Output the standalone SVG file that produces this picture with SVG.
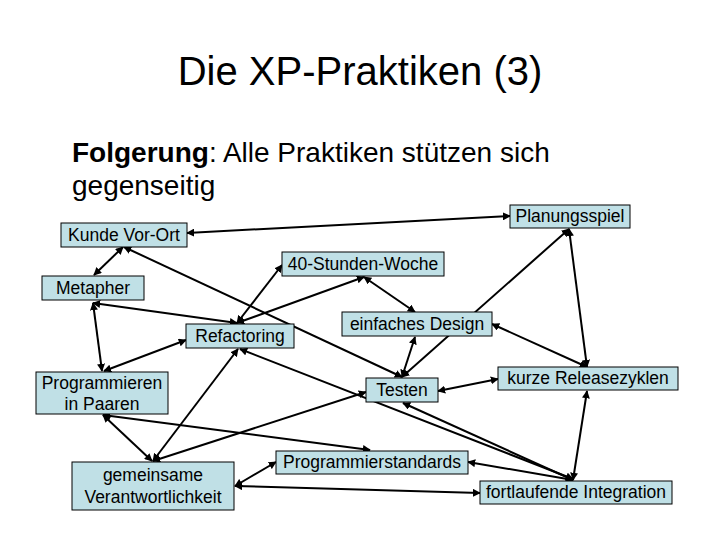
<svg xmlns="http://www.w3.org/2000/svg" width="720" height="540" viewBox="0 0 720 540">
<style>
.b{fill:#c0e0e6;stroke:#000;stroke-width:1}
.t{font-family:"Liberation Sans",Arial,sans-serif;font-size:17.5px;fill:#000;text-anchor:middle}
.c line{stroke:#000;stroke-width:2;marker-start:url(#a);marker-end:url(#a)}
</style>
<defs><marker id="a" viewBox="0 0 10 10" refX="9" refY="5" markerWidth="4" markerHeight="4" orient="auto-start-reverse"><path d="M0,0L10,5L0,10z" fill="#000"/></marker></defs>
<rect width="720" height="540" fill="#fff"/>
<text x="360" y="85" font-family="Liberation Sans,Arial,sans-serif" font-size="40" text-anchor="middle">Die XP-Praktiken (3)</text>
<text x="72" y="162" font-family="Liberation Sans,Arial,sans-serif" font-size="28"><tspan font-weight="bold">Folgerung</tspan>: Alle Praktiken stützen sich</text>
<text x="72" y="195" font-family="Liberation Sans,Arial,sans-serif" font-size="28">gegenseitig</text>
<g class="c" id="connectors">
<line x1="510" y1="216" x2="187" y2="233"/>
<line x1="123" y1="247" x2="94" y2="275"/>
<line x1="124" y1="247" x2="402" y2="377"/>
<line x1="93" y1="303" x2="237" y2="323"/>
<line x1="237" y1="323" x2="282" y2="265"/>
<line x1="237" y1="323" x2="364" y2="277"/>
<line x1="93" y1="303" x2="102" y2="371"/>
<line x1="186" y1="340" x2="104" y2="371"/>
<line x1="238" y1="349" x2="153" y2="461"/>
<line x1="240" y1="349" x2="573" y2="479"/>
<line x1="153" y1="461" x2="366" y2="392"/>
<line x1="103" y1="415" x2="152" y2="461"/>
<line x1="103" y1="415" x2="370" y2="450"/>
<line x1="235" y1="486" x2="276" y2="462"/>
<line x1="480" y1="493" x2="235" y2="486"/>
<line x1="364" y1="277" x2="415" y2="312"/>
<line x1="415" y1="337" x2="402" y2="377"/>
<line x1="402" y1="377" x2="569" y2="229"/>
<line x1="569" y1="229" x2="587" y2="367"/>
<line x1="492" y1="324" x2="587" y2="367"/>
<line x1="438" y1="391" x2="498" y2="379"/>
<line x1="587" y1="391" x2="573" y2="480"/>
<line x1="403" y1="403" x2="573" y2="480"/>
<line x1="468" y1="462" x2="573" y2="480"/>
</g>
<g id="kunde"><rect class="b" x="61" y="223" width="126" height="24"/><text class="t" x="124" y="241">Kunde Vor-Ort</text></g>
<g id="metapher"><rect class="b" x="42" y="276" width="102" height="24"/><text class="t" x="93" y="294">Metapher</text></g>
<g id="refactoring"><rect class="b" x="186" y="324" width="108" height="24"/><text class="t" x="240" y="342">Refactoring</text></g>
<g id="paaren"><rect class="b" x="36" y="372" width="132" height="42"/><text class="t" x="102" y="389">Programmieren</text><text class="t" x="102" y="410">in Paaren</text></g>
<g id="gemeinsam"><rect class="b" x="72" y="462" width="162" height="48"/><text class="t" x="153" y="481">gemeinsame</text><text class="t" x="153" y="503">Verantwortlichkeit</text></g>
<g id="planung"><rect class="b" x="510" y="205" width="120" height="23"/><text class="t" x="570" y="222">Planungsspiel</text></g>
<g id="stunden"><rect class="b" x="282" y="252" width="162" height="24"/><text class="t" x="363" y="270">40-Stunden-Woche</text></g>
<g id="design"><rect class="b" x="342" y="312" width="150" height="24"/><text class="t" x="417" y="330">einfaches Design</text></g>
<g id="testen"><rect class="b" x="366" y="378" width="72" height="24"/><text class="t" x="402" y="396">Testen</text></g>
<g id="kurze"><rect class="b" x="498" y="367" width="180" height="23"/><text class="t" x="588" y="384">kurze Releasezyklen</text></g>
<g id="standards"><rect class="b" x="276" y="451" width="192" height="23"/><text class="t" x="372" y="468">Programmierstandards</text></g>
<g id="integration"><rect class="b" x="480" y="481" width="192" height="23"/><text class="t" x="576" y="498">fortlaufende Integration</text></g>
</svg>
